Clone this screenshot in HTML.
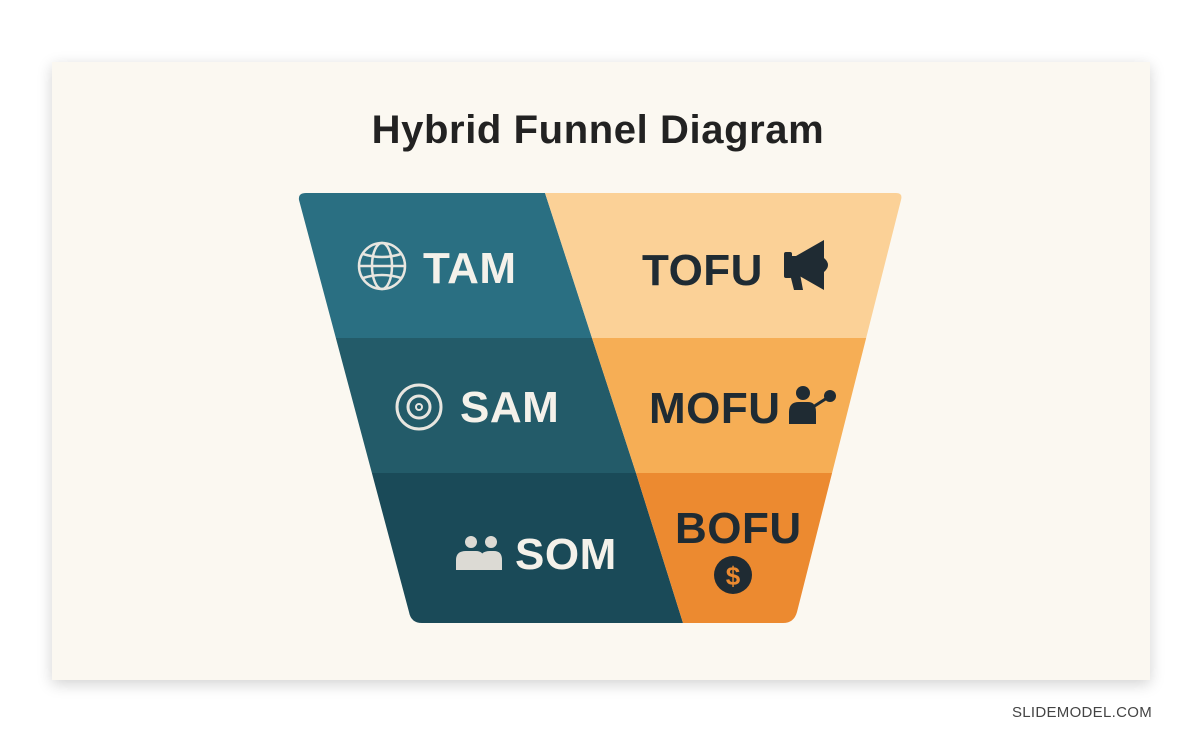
<!DOCTYPE html>
<html><head><meta charset="utf-8"><style>
html,body{margin:0;padding:0;background:#fff;}
body{width:1200px;height:743px;position:relative;overflow:hidden;font-family:"Liberation Sans",sans-serif;}
.card{position:absolute;left:52px;top:62px;width:1098px;height:618px;background:#fbf8f1;box-shadow:0 4px 14px rgba(0,0,0,0.18);}
.foot{position:absolute;right:48px;top:704px;font-size:15px;color:#444;letter-spacing:0.3px;}
</style></head><body>
<div class="card"></div>
<svg width="1200" height="743" style="position:absolute;left:0;top:0" font-family="Liberation Sans, sans-serif">
<text x="598" y="143" text-anchor="middle" font-size="40" font-weight="bold" fill="#222" letter-spacing="0.6">Hybrid Funnel Diagram</text>
<defs><clipPath id="f"><path d="M306,193 L896,193 Q903,193 901,200 L797,612 Q794,623 783,623 L422,623 Q411,623 409,612 L299,200 Q298,193 306,193 Z"/></clipPath></defs>
<g clip-path="url(#f)">
<polygon points="290,193 545,193 592,338 290,338" fill="#2a6f82"/>
<polygon points="290,338 592,338 636,473 290,473" fill="#235b69"/>
<polygon points="290,473 636,473 683,623 290,623" fill="#1a4a58"/>
<polygon points="545,193 910,193 910,338 592,338" fill="#fbd197"/>
<polygon points="592,338 910,338 910,473 636,473" fill="#f6ae55"/>
<polygon points="636,473 910,473 910,623 683,623" fill="#ec8a30"/>
</g>
<g font-weight="bold" font-size="44" letter-spacing="0.5">
<text x="423" y="283" fill="#f4f1ea">TAM</text>
<text x="460" y="422" fill="#f4f1ea">SAM</text>
<text x="515" y="569" fill="#f4f1ea">SOM</text>
<text x="642" y="285" fill="#1f2b33">TOFU</text>
<text x="649" y="423" fill="#1f2b33">MOFU</text>
<text x="675" y="543" fill="#1f2b33">BOFU</text>
</g>
<g fill="none" stroke="#e8e6e0" stroke-width="2.5">
<circle cx="382" cy="266" r="23"/><ellipse cx="382" cy="266" rx="10" ry="23"/>
<line x1="359" y1="266" x2="405" y2="266"/><path d="M363,254 Q382,260 401,254"/><path d="M363,278 Q382,272 401,278"/>
</g>
<g fill="none" stroke="#e8e6e0">
<circle cx="419" cy="407" r="22" stroke-width="3"/><circle cx="419" cy="407" r="11" stroke-width="3"/><circle cx="419" cy="407" r="3" stroke-width="2"/>
</g>
<g fill="#dcdad4">
<circle cx="471" cy="542" r="6"/><circle cx="491" cy="542" r="6"/>
<path d="M456,570 L456,560 Q456,551 466,551 L476,551 Q484,551 484,560 L484,570 Z"/>
<path d="M480,570 L480,560 Q480,551 490,551 L494,551 Q502,551 502,560 L502,570 Z"/>
</g>
<g fill="#1f2b33">
<path d="M784,256 L796,256 L824,240 L824,290 L796,274 L784,274 Z"/>
<rect x="784" y="252" width="8" height="26" rx="2"/>
<path d="M790,274 L800,274 L803,290 L794,290 Z"/>
<path d="M824,258 Q832,265 824,272 Z"/>
</g>
<g fill="#1f2b33">
<circle cx="803" cy="393" r="7"/>
<path d="M789,424 L789,412 Q789,402 799,402 L808,402 Q816,402 816,412 L816,424 Z"/>
<line x1="813" y1="407" x2="827" y2="398" stroke="#1f2b33" stroke-width="3"/>
<circle cx="830" cy="396" r="6"/>
</g>
<circle cx="733" cy="575" r="19" fill="#1f2b33"/>
<text x="733" y="585" text-anchor="middle" font-size="26" font-weight="bold" fill="#ec8a30">$</text>
</svg>
<div class="foot">SLIDEMODEL.COM</div>
</body></html>
